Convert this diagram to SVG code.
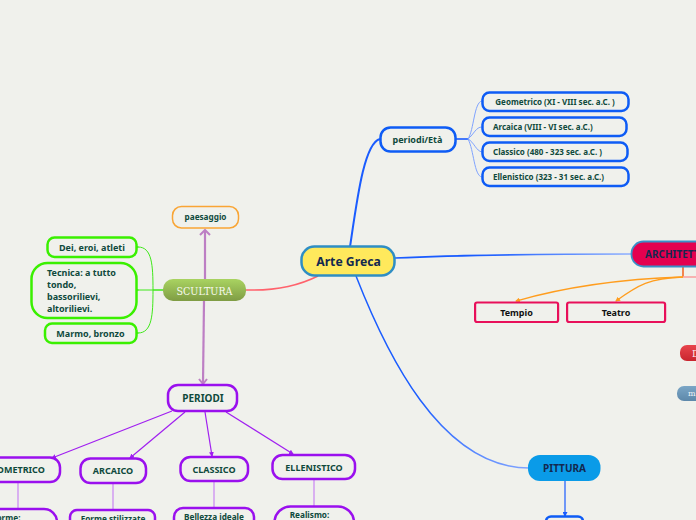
<svg xmlns="http://www.w3.org/2000/svg" width="696" height="520" viewBox="0 0 696 520">
<style>
text{font-family:"Noto Sans","Open Sans",sans-serif;font-weight:700;text-anchor:middle;fill:#0f4a3c}
.blue{fill:#f0f1ec;stroke:#0e5cf5;stroke-width:2.5}
.green{fill:#f0f1ec;stroke:#3af000;stroke-width:2.5}
.purple{fill:#f0f1ec;stroke:#9a10ee;stroke-width:2.5}
.cb{fill:none;stroke:#1a5cff}
.cg{fill:none;stroke:#3fe81a}
.cp{fill:none;stroke:#a01ff0;stroke-width:1.2}
.cl{fill:none;stroke:#d3a0f2;stroke-width:1.6}
.co{fill:none;stroke:#ff9d1e;stroke-width:1.3}
.red{fill:#f0f1ec;stroke:#e8105a;stroke-width:2.2}
.s9{font-size:9px}.s8{font-size:8px}.s10{font-size:10px}
.l{text-anchor:start}
</style>
<defs>
<linearGradient id="gg" x1="0" y1="0" x2="0" y2="1"><stop offset="0" stop-color="#a9d361"/><stop offset="1" stop-color="#7f9c44"/></linearGradient>
<linearGradient id="gr" x1="0" y1="0" x2="0" y2="1"><stop offset="0" stop-color="#e8454c"/><stop offset="1" stop-color="#c9252e"/></linearGradient>
<linearGradient id="gb" x1="0" y1="0" x2="0" y2="1"><stop offset="0" stop-color="#7ba6c6"/><stop offset="1" stop-color="#5d88aa"/></linearGradient>
<linearGradient id="fa" gradientUnits="userSpaceOnUse" x1="395" y1="0" x2="632" y2="0"><stop offset="0.35" stop-color="#1a5cff"/><stop offset="1" stop-color="#8fb0ff"/></linearGradient>
<linearGradient id="fp" gradientUnits="userSpaceOnUse" x1="356" y1="276" x2="529" y2="468"><stop offset="0.5" stop-color="#1a5cff"/><stop offset="1" stop-color="#7fa3ff"/></linearGradient>
<marker id="ap" markerWidth="5" markerHeight="5" refX="4" refY="2.500" orient="auto" markerUnits="userSpaceOnUse"><path d="M0 0L5 2.500L0 5z" fill="#a01ff0"/></marker>
<marker id="ao" markerWidth="5" markerHeight="5" refX="4" refY="2.500" orient="auto" markerUnits="userSpaceOnUse"><path d="M0 0L5 2.500L0 5z" fill="#ff9d1e"/></marker>
<marker id="ag" markerWidth="5" markerHeight="5" refX="1" refY="2.500" orient="auto" markerUnits="userSpaceOnUse"><path d="M0 2.500L4 0L4 5z" fill="#3fe81a"/></marker>
<marker id="ab" markerWidth="5" markerHeight="5" refX="4" refY="2.500" orient="auto" markerUnits="userSpaceOnUse"><path d="M0 0L5 2.500L0 5z" fill="#1a5cff"/></marker>
</defs>
<rect width="696" height="520" fill="#f0f1ec"/>
<g id="connectors">
<path class="cb" stroke-width="2" d="M350 247C357 200 364 143 380 139"/>
<path fill="none" stroke="url(#fa)" stroke-width="1.700" d="M395 258C480 254 560 254 632 254"/>
<path fill="none" stroke="url(#fp)" stroke-width="1.500" d="M356 276C385 350 440 468 529 468"/>
<path d="M246 290C275 291 300 285 318 276" fill="none" stroke="#ff626c" stroke-width="1.500"/>
<path class="cb" stroke-width="1.600" d="M456 139H469"/>
<g stroke="#7fa3ff" fill="none" stroke-width="1">
<path d="M468 139C474 130 474 102 482 101"/>
<path d="M468 139C474 134 476 127 482 127"/>
<path d="M468 139C474 142 476 151 482 152"/>
<path d="M468 139C474 150 474 176 482 177"/>
</g>
<path d="M205 279V231" fill="none" stroke="#bd7fc4" stroke-width="2.200"/>
<path d="M200 235L205 230L210 235" fill="none" stroke="#bd7fc4" stroke-width="2"/>
<path d="M204 301L203 383" fill="none" stroke="#bd7fc4" stroke-width="2.200"/>
<path d="M199 379L203 384L207 379" fill="none" stroke="#bd7fc4" stroke-width="2"/>
<path class="cg" stroke-width="1.500" d="M163 290H153"/>
<path class="cg" stroke-width="1" d="M153 290C153 265 152 247 138 247" marker-end="url(#ag)"/>
<path class="cg" stroke-width="1" d="M153 290H138" marker-end="url(#ag)"/>
<path class="cg" stroke-width="1" d="M153 290C153 315 152 333 138 333" marker-end="url(#ag)"/>
<path class="cp" d="M172 411L52 458" marker-end="url(#ap)"/>
<path class="cp" d="M185 412L130 458" marker-end="url(#ap)"/>
<path class="cp" d="M205 412L212 456" marker-end="url(#ap)"/>
<path class="cp" d="M226 412L293 454" marker-end="url(#ap)"/>
<path class="cl" d="M18 482V509"/>
<path class="cl" d="M113 483V510"/>
<path class="cl" d="M214 481V508"/>
<path class="cl" d="M314 479V506"/>
<path d="M683 266V277" stroke="#f36a2a" stroke-width="1.600" fill="none"/>
<path d="M683 277H696" stroke="#f9a3a3" stroke-width="1.600" fill="none"/>
<path class="co" d="M683 277C620 279 565 287 516 301" marker-end="url(#ao)"/>
<path class="co" d="M683 277C650 278 638 285 616 301" marker-end="url(#ao)"/>
<path class="cb" stroke-width="1.200" d="M565 481V516" marker-end="url(#ab)"/>
</g>
<g id="node-root"><rect x="301.500" y="246.500" width="93" height="29" rx="13" fill="#ffe95c" stroke="#2f8ec4" stroke-width="2.500"/><text x="348.500" y="266" font-size="12.200" style="fill:#13284f">Arte Greca</text></g>
<g id="node-periodi-eta"><rect class="blue" x="380.500" y="127.500" width="75" height="24" rx="10"/><text x="417.500" y="143" class="s9">periodi/Età</text></g>
<g id="node-geo-eta"><rect class="blue" x="482.500" y="92.500" width="146" height="18.500" rx="7"/><text x="555" y="105" class="s8">Geometrico (XI - VIII sec. a.C. )</text></g>
<g id="node-arc-eta"><rect class="blue" x="482.500" y="117.500" width="144" height="18.500" rx="7"/><text x="493" y="130" class="s8 l">Arcaica  (VIII - VI sec. a.C.)</text></g>
<g id="node-cla-eta"><rect class="blue" x="482.500" y="142.500" width="145" height="18.500" rx="7"/><text x="493" y="155" class="s8 l">Classico (480 - 323 sec. a.C. )</text></g>
<g id="node-ell-eta"><rect class="blue" x="482.500" y="167.500" width="146" height="18.500" rx="7"/><text x="493" y="180" class="s8 l">Ellenistico (323 - 31 sec. a.C.)</text></g>
<g id="node-architettura"><rect x="631.500" y="241.500" width="90" height="25" rx="12" fill="#e4004f" stroke="#3a8fc7" stroke-width="1.800"/><text x="645" y="258" class="s10 l" style="fill:#13284f">ARCHITETTURA</text></g>
<g id="node-tempio"><rect class="red" x="475.100" y="302.500" width="83" height="19.500" rx="2"/><text x="516.500" y="316" class="s9" style="fill:#111">Tempio</text></g>
<g id="node-teatro"><rect class="red" x="567.100" y="302.500" width="98" height="19.500" rx="2"/><text x="616" y="316" class="s9" style="fill:#111">Teatro</text></g>
<g id="node-d"><rect x="680" y="345" width="40" height="16" rx="7" fill="url(#gr)"/><text x="692" y="357" font-size="9" class="l" style="font-family:'DejaVu Serif',serif;font-weight:400;fill:#fbeeee">D</text></g>
<g id="node-m"><rect x="677" y="386" width="40" height="15" rx="7" fill="url(#gb)"/><text x="688" y="396" font-size="8" class="l" style="font-family:'DejaVu Serif',serif;font-weight:400;fill:#f3f6f8">m</text></g>
<g id="node-scultura"><rect x="163" y="279" width="83" height="22" rx="10" fill="url(#gg)"/><text x="204.500" y="294.500" font-size="11.500" textLength="56" lengthAdjust="spacingAndGlyphs" style="font-family:'DejaVu Serif',serif;font-weight:400;fill:#f7f9ee">SCULTURA</text></g>
<g id="node-paesaggio"><rect x="172.500" y="206.500" width="66" height="21.500" rx="9" fill="#f0f1ec" stroke="#f9a534" stroke-width="1.500"/><text x="205.500" y="220" font-size="8.200">paesaggio</text></g>
<g id="node-dei"><rect class="green" x="47.500" y="237.500" width="89" height="19.500" rx="7"/><text x="92" y="251" class="s9">Dei, eroi, atleti</text></g>
<g id="node-tecnica"><rect class="green" x="31.500" y="263" width="105" height="55" rx="16"/><text class="s9 l" y="276"><tspan x="47">Tecnica: a tutto</tspan><tspan x="47" dy="12">tondo,</tspan><tspan x="47" dy="12">bassorilievi,</tspan><tspan x="47" dy="12">altorilievi.</tspan></text></g>
<g id="node-marmo"><rect class="green" x="45" y="323.500" width="91.500" height="19.500" rx="7"/><text x="90.500" y="337" class="s9">Marmo, bronzo</text></g>
<g id="node-periodi"><rect class="purple" x="168" y="385" width="69" height="26" rx="10"/><text x="203" y="402" class="s10">PERIODI</text></g>
<g id="node-geometrico"><rect class="purple" x="-30" y="457.500" width="90" height="24.500" rx="10"/><text x="15" y="473" class="s9">GEOMETRICO</text></g>
<g id="node-arcaico"><rect class="purple" x="80.500" y="458.500" width="65.500" height="24.500" rx="10"/><text x="113" y="474" class="s9">ARCAICO</text></g>
<g id="node-classico"><rect class="purple" x="180.500" y="457" width="67.500" height="24" rx="10"/><text x="214" y="473" class="s9">CLASSICO</text></g>
<g id="node-ellenistico"><rect class="purple" x="272.500" y="455" width="82.500" height="24" rx="10"/><text x="314" y="471" class="s9">ELLENISTICO</text></g>
<g id="node-forme"><rect class="purple" x="-40" y="509" width="97" height="40" rx="13"/><text x="-8" y="521" font-size="8.200" class="l">Forme:</text></g>
<g id="node-stilizzate"><rect class="purple" x="70" y="510" width="85" height="40" rx="7"/><text x="113" y="522" font-size="8.200">Forme stilizzate</text></g>
<g id="node-bellezza"><rect class="purple" x="174" y="508" width="80" height="40" rx="9"/><text x="214" y="520" font-size="8.200">Bellezza ideale</text></g>
<g id="node-realismo"><rect class="purple" x="274.500" y="506.500" width="79.500" height="40" rx="16"/><text x="309.500" y="518" font-size="8.200">Realismo:</text></g>
<g id="node-pittura"><rect x="528" y="455" width="72.500" height="26" rx="12" fill="#0a9be8"/><text x="564.500" y="472" class="s10" style="fill:#13284f">PITTURA</text></g>
<g id="node-pittura-child"><rect class="blue" x="546" y="516.500" width="37" height="20" rx="5"/></g>
</svg>
